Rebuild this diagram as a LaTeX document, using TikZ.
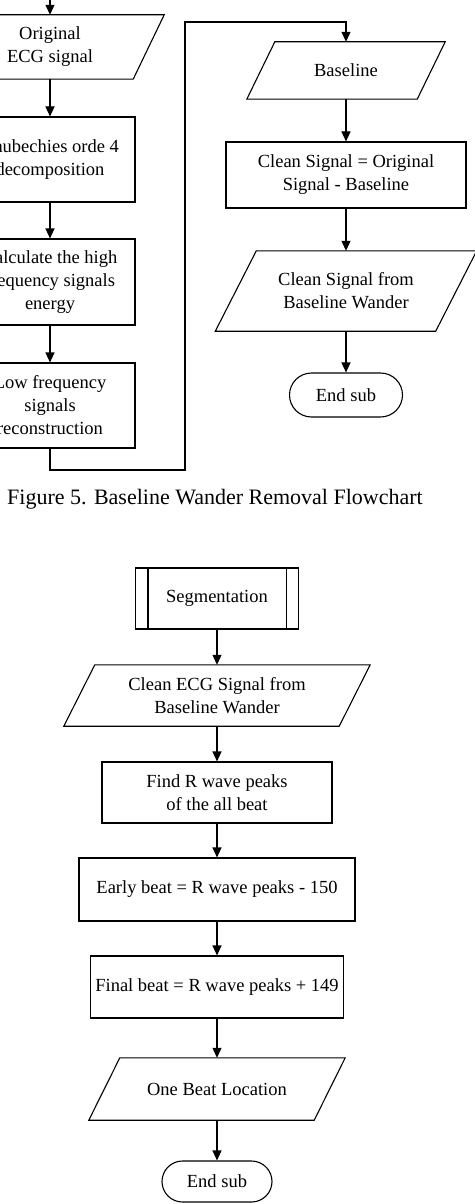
\documentclass[tikz,border=0pt]{standalone}
\usepackage{fontspec}
\setmainfont{Liberation Serif}
\usetikzlibrary{arrows.meta,shapes.misc,calc}
\tikzset{
  base/.style={inner sep=0pt, align=center, font=\fontsize{18.5}{23}\selectfont},
  procbox/.style={base, draw, rectangle, line width=1.1pt},
  iobox/.style={base, rectangle},
  termbox/.style={base, draw, rounded rectangle, line width=1.1pt},
  flow/.style={line width=1.1pt, -{Triangle[length=10pt,width=9pt]}},
  edgeline/.style={line width=1.1pt},
}
\newcommand\drawpara[2]{%
  \draw[edgeline] ($(#1.north west)+(#2/2,0)$) -- ($(#1.north east)+(#2/2,0)$)
    -- ($(#1.south east)-(#2/2,0)$) -- ($(#1.south west)-(#2/2,0)$) -- cycle;}
\begin{document}
\begin{tikzpicture}[x=1pt,y=-1pt]
\useasboundingbox (0,0) rectangle (474,1204);
% ---- top flowchart, left column
\coordinate (top) at (50,0);
\node[iobox, minimum width=197pt, minimum height=64pt] (orig) at (50,47) {Original\\ECG signal};
\drawpara{orig}{31}
\node[procbox, minimum width=170pt, minimum height=85pt] (daub) at (50,159.5) {Daubechies orde 4\\decomposition};
\node[procbox, minimum width=170pt, minimum height=86pt] (calc) at (50,282) {Calculate the high\\frequency signals\\energy};
\node[procbox, minimum width=170pt, minimum height=85pt] (low) at (50,405.5) {Low frequency\\signals\\reconstruction};
% ---- right column
\node[iobox, minimum width=170pt, minimum height=57pt] (basel) at (346,70.5) {Baseline};
\drawpara{basel}{28}
\node[procbox, minimum width=240pt, minimum height=66pt] (clean) at (346,175) {Clean Signal = Original\\Signal - Baseline};
\node[iobox, minimum width=220pt, minimum height=80pt] (cw) at (346,291) {Clean Signal from\\Baseline Wander};
\drawpara{cw}{41}
\node[termbox, minimum width=113pt, minimum height=44pt] (end1) at (346,395) {End sub};
% connectors
\draw[flow] (top) -- (orig.north);
\draw[flow] (orig.south) -- (daub.north);
\draw[flow] (daub.south) -- (calc.north);
\draw[flow] (calc.south) -- (low.north);
\coordinate (k1) at (185,470);
\coordinate (k2) at (185,22);
\draw[flow] (low.south) |- (k1) -- (k2) -| (basel.north);
\draw[flow] (basel.south) -- (clean.north);
\draw[flow] (clean.south) -- (cw.north);
\draw[flow] (cw.south) -- (end1.north);
% caption
\node[anchor=base, inner sep=0pt, font=\fontsize{22}{26}\selectfont] (cap) at (215,504) {Figure 5. Baseline Wander Removal Flowchart};
% ---- bottom flowchart
\node[procbox, minimum width=163pt, minimum height=61pt] (seg) at (217,598.5) {Segmentation};
\draw[edgeline] ([xshift=13pt]seg.north west) -- ([xshift=13pt]seg.south west);
\draw[edgeline] ([xshift=-13pt]seg.north east) -- ([xshift=-13pt]seg.south east);
\node[iobox, minimum width=275pt, minimum height=61pt] (ce) at (217,695.5) {Clean ECG Signal from\\Baseline Wander};
\drawpara{ce}{31}
\node[procbox, minimum width=230pt, minimum height=61pt] (find) at (217,792.5) {Find R wave peaks\\of the all beat};
\node[procbox, minimum width=276pt, minimum height=63pt] (early) at (217,889.5) {Early beat = R wave peaks - 150};
\node[procbox, minimum width=253pt, minimum height=62pt] (final) at (217,987) {Final beat = R wave peaks + 149};
\node[iobox, minimum width=225pt, minimum height=62pt] (one) at (217,1089) {One Beat Location};
\drawpara{one}{31}
\node[termbox, minimum width=110pt, minimum height=41pt] (end2) at (217,1181.5) {End sub};
\draw[flow] (seg.south) -- (ce.north);
\draw[flow] (ce.south) -- (find.north);
\draw[flow] (find.south) -- (early.north);
\draw[flow] (early.south) -- (final.north);
\draw[flow] (final.south) -- (one.north);
\draw[flow] (one.south) -- (end2.north);
\end{tikzpicture}
\end{document}
